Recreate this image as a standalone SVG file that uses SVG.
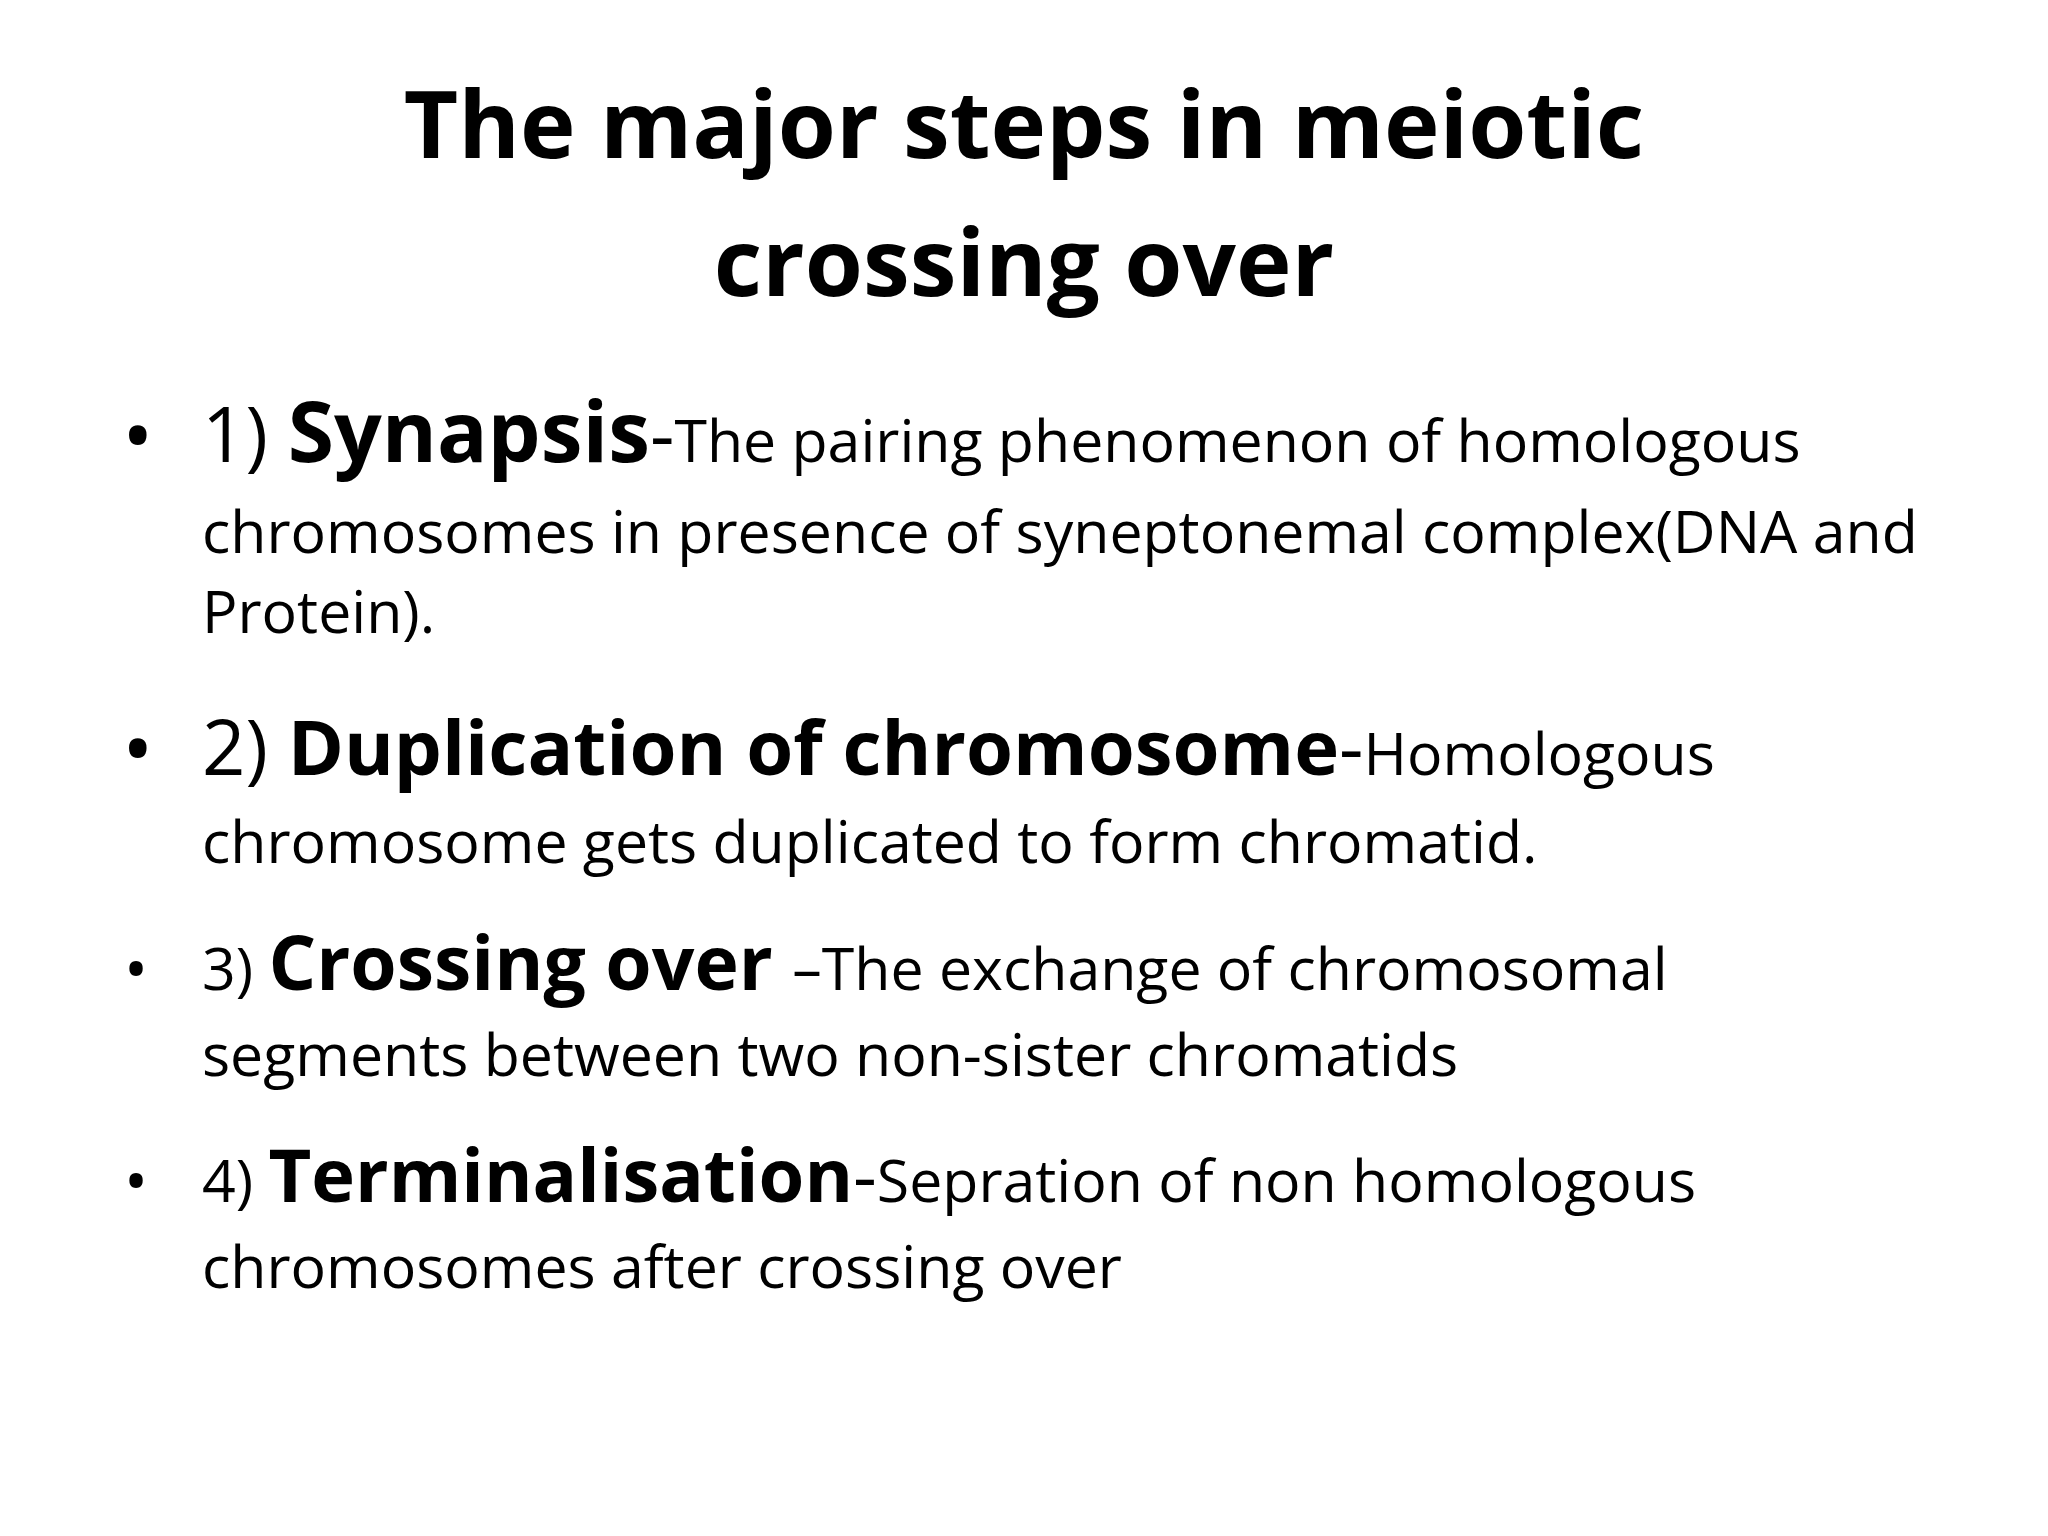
<svg xmlns="http://www.w3.org/2000/svg" width="2048" height="1536" viewBox="0 0 2048 1536">
<style>
text{font-family:"Open Sans","Noto Sans",sans-serif;fill:#000}
.t{font-weight:bold;font-size:94px}
.s{font-size:59px}
.b{font-weight:bold}
</style>
<rect width="2048" height="1536" fill="#fff"/>
<g id="title">
<text class="t" x="1024" y="158" text-anchor="middle">The major steps in meiotic</text>
<text class="t" x="1024" y="296" text-anchor="middle">crossing over</text>
</g>
<g id="item1">
<text x="122" y="466" font-size="84">•</text>
<text x="202" y="462"><tspan font-size="76">1) </tspan><tspan class="b" font-size="84">Synapsis</tspan><tspan font-size="76">-</tspan><tspan font-size="59">The pairing phenomenon of homologous</tspan></text>
<text class="s" x="202" y="553">chromosomes in presence of syneptonemal complex(DNA and</text>
<text class="s" x="202" y="633">Protein).</text>
</g>
<g id="item2">
<text x="122" y="779" font-size="84">•</text>
<text x="202" y="775"><tspan font-size="76">2) </tspan><tspan class="b" font-size="76">Duplication of chromosome</tspan><tspan font-size="76">-</tspan><tspan font-size="59">Homologous</tspan></text>
<text class="s" x="202" y="863">chromosome gets duplicated to form chromatid.</text>
</g>
<g id="item3">
<text x="124" y="992" font-size="64">•</text>
<text x="202" y="990"><tspan font-size="59">3) </tspan><tspan class="b" font-size="75">Crossing over </tspan><tspan font-size="59">–The exchange of chromosomal</tspan></text>
<text class="s" x="202" y="1076">segments between two non-sister chromatids</text>
</g>
<g id="item4">
<text x="124" y="1204" font-size="64">•</text>
<text x="202" y="1202"><tspan font-size="59">4) </tspan><tspan class="b" font-size="74">Terminalisation</tspan><tspan font-size="74">-</tspan><tspan font-size="59">Sepration of non homologous</tspan></text>
<text class="s" x="202" y="1288">chromosomes after crossing over</text>
</g>
</svg>
